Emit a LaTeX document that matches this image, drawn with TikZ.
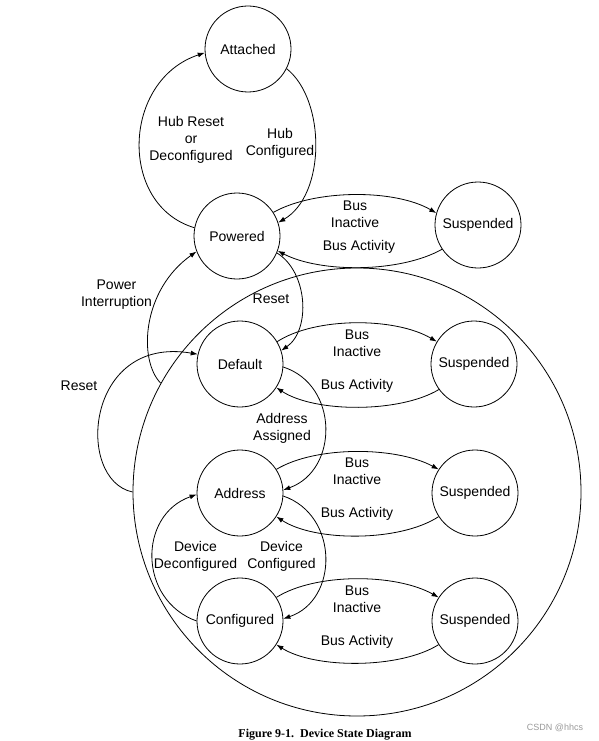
\documentclass[tikz,border=0pt]{standalone}
\usepackage{fontspec}
\setmainfont{Liberation Sans}
\newfontfamily\capfont{Liberation Serif}
\usetikzlibrary{arrows.meta}
\begin{document}
\begin{tikzpicture}[x=1pt,y=-1pt,
  state/.style={circle,draw,line width=0.8pt,minimum size=86pt,inner sep=0pt,font=\fontsize{14}{17}\selectfont},
  lbl/.style={align=center,font=\fontsize{14}{17}\selectfont,inner sep=0pt},
  tr/.style={line width=0.8pt,-{Latex[length=7pt,width=5pt]}},
  plain/.style={line width=0.8pt},
]
\useasboundingbox (0,0) rectangle (599,741);
% big enclosing circle
\node[circle,draw,line width=0.8pt,minimum size=448pt,inner sep=0pt] (big) at (357,492) {};
% states
\node[state] (att) at (248,49) {Attached};
\node[state] (pow) at (237,236) {Powered};
\node[state] (s1) at (478,225) {Suspended};
\node[state] (def) at (240,364) {Default};
\node[state] (s2) at (474,364) {Suspended};
\node[state] (adr) at (240,493) {Address};
\node[state] (s3) at (475,493) {Suspended};
\node[state] (cfg) at (240,621) {Configured};
\node[state] (s4) at (475,621) {Suspended};
% transitions
\draw[tr] (att.-27) .. controls (326,100) and (326,195) .. (pow.18);
\draw[tr] (pow.169) .. controls (118,205) and (122,80) .. (att.185);
\draw[tr] (pow.33) .. controls (315,189) and (395,189) .. (s1.164);
\draw[tr] (s1.214) .. controls (400,273) and (320,273) .. (pow.-20);
\draw[tr] (pow.-23) .. controls (308,272) and (311,330) .. (def.18);
\draw[tr] (big.151.5) .. controls (138,360) and (142,290) .. (pow.201);
\draw[tr] (big.180) .. controls (75,480) and (85,335) .. (def.167);
\draw[tr] (def.31) .. controls (315,317) and (395,317) .. (s2.149);
\draw[tr] (s2.216) .. controls (400,413) and (315,413) .. (def.-33);
\draw[tr] (def.-4) .. controls (339,385) and (339,470) .. (adr.4);
\draw[tr] (adr.33) .. controls (315,446) and (395,446) .. (s3.147);
\draw[tr] (s3.213) .. controls (400,542) and (315,542) .. (adr.-33);
\draw[tr] (adr.-4) .. controls (339,515) and (339,600) .. (cfg.3);
\draw[tr] (cfg.180) .. controls (138,600) and (138,515) .. (adr.182);
\draw[tr] (cfg.33) .. controls (315,573) and (395,573) .. (s4.147);
\draw[tr] (s4.213) .. controls (400,669) and (315,669) .. (cfg.-33);
% labels
\node[lbl] (l1) at (191,140) {Hub Reset\\or\\Deconfigured};
\node[lbl] (l2) at (280,143) {Hub\\Configured};
\node[lbl] (l3) at (355,214.5) {Bus\\Inactive};
\node[lbl] (l4) at (359,246.5) {Bus Activity};
\node[lbl] (l5) at (271,299) {Reset};
\node[lbl] (l6) at (116.5,295) {Power\\Interruption};
\node[lbl] (l7) at (79,386) {Reset};
\node[lbl] (l8) at (357,343) {Bus\\Inactive};
\node[lbl] (l9) at (357,385.5) {Bus Activity};
\node[lbl] (l10) at (282,428.5) {Address\\Assigned};
\node[lbl] (l11) at (357,471) {Bus\\Inactive};
\node[lbl] (l12) at (357,514) {Bus Activity};
\node[lbl] (l13) at (195.5,556.5) {Device\\Deconfigured};
\node[lbl] (l14) at (281.5,556.5) {Device\\Configured};
\node[lbl] (l15) at (357,599.5) {Bus\\Inactive};
\node[lbl] (l16) at (357,642) {Bus Activity};
% caption and watermark
\node[inner sep=0pt,font=\capfont\bfseries\fontsize{12}{14}\selectfont] (cap) at (325,735) {Figure 9-1.\ \ Device State Diagram};
\node[inner sep=0pt,text=black!40,font=\fontsize{9}{11}\selectfont] (wm) at (555,728) {CSDN @hhcs};
\end{tikzpicture}
\end{document}
